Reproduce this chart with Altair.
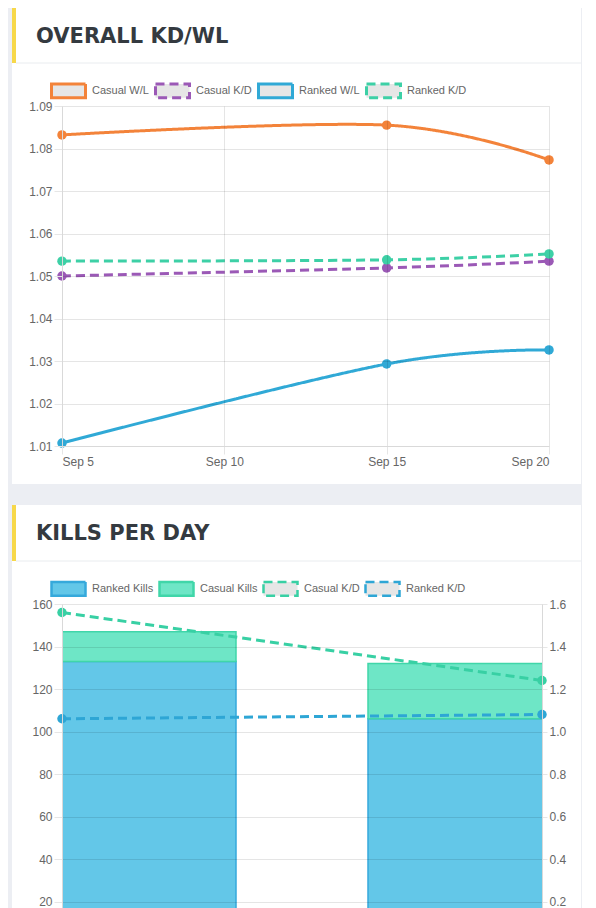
import pandas as pd
import altair as alt

# overall kd / wl values
wl_dates = ["2019-09-05", "2019-09-15", "2019-09-20"]
casual_wl = [1.0832, 1.0855, 1.0773]
casual_kd = [1.0500, 1.0519, 1.0535]
ranked_wl = [1.0107, 1.0293, 1.0326]
ranked_kd = [1.0535, 1.0538, 1.0552]
wl_series = ["Casual W/L", "Casual K/D", "Ranked W/L", "Ranked K/D"]
wl_colors = ["#f3833a", "#9b59b6", "#30a9d6", "#3dd0a6"]
wl_boxes = ["#e6e6e6", "#e6e6e6", "#e6e6e6", "#e6e6e6"]
wl_dashes = [[1, 0], [9, 5], [1, 0], [9, 5]]
wl_ticks = [1.01, 1.02, 1.03, 1.04, 1.05, 1.06, 1.07, 1.08, 1.09]

# kills per day values
kill_dates = ["2019-09-15", "2019-09-20"]
ranked_kills = [133, 106]
casual_kills = [14, 26]
casual_kd_day = [1.56, 1.24]
ranked_kd_day = [1.06, 1.08]
kill_series = ["Ranked Kills", "Casual Kills", "Casual K/D", "Ranked K/D"]
kill_fill = ["#63c7e8", "#6ee6c6", "#e6e6e6", "#e6e6e6"]
kill_stroke = ["#36a9db", "#40d6a9", "#38d0a4", "#2ea6d5"]
kill_dashes = [[1, 0], [1, 0], [9, 5], [9, 5]]
kills_ticks = [0, 20, 40, 60, 80, 100, 120, 140, 160]
kd_ticks = [0, 0.2, 0.4, 0.6, 0.8, 1.0, 1.2, 1.4, 1.6]

FONT = "Liberation Sans"
BOX = "M-1,-0.4L1,-0.4L1,0.4L-1,0.4Z"

wl_rows = []
for name, vals in zip(wl_series, [casual_wl, casual_kd, ranked_wl, ranked_kd]):
    for d, v in zip(wl_dates, vals):
        wl_rows.append({"date": d, "series": name, "value": v})
wl_df = pd.DataFrame(wl_rows)

bar_rows = []
for i, (name, vals) in enumerate(zip(kill_series[:2], [ranked_kills, casual_kills])):
    for d, v in zip(kill_dates, vals):
        bar_rows.append({"date": d, "series": name, "kills": v, "stack": i})
bar_df = pd.DataFrame(bar_rows)

kd_rows = []
for name, vals in zip(kill_series[2:], [casual_kd_day, ranked_kd_day]):
    for d, v in zip(kill_dates, vals):
        kd_rows.append({"date": d, "series": name, "kd": v})
kd_df = pd.DataFrame(kd_rows)


def sep(d):
    return alt.DateTime(year=2019, month=9, date=d, utc=True)


def legend(stroke_width=3):
    return alt.Legend(
        orient="none", legendX=-12, legendY=-34, direction="horizontal", title=None,
        symbolType=BOX, symbolSize=1156, symbolStrokeWidth=stroke_width,
        symbolFillColor="#e6e6e6", labelFont=FONT, labelFontSize=11,
        labelColor="#666", labelOffset=5, columnPadding=0, padding=0,
    )


def axis(**kw):
    base = dict(labelFont=FONT, labelFontSize=12, labelColor="#666",
                gridColor="#000", gridOpacity=0.1, tickColor="#e6e6e6",
                domainColor="#d9d9d9", tickSize=8, labelPadding=2, title=None, zindex=1)
    base.update(kw)
    return alt.Axis(**base)


# white card with a yellow edge and a header line behind each chart
def card(top, bottom):
    one = alt.Data(values=[{"k": 0}])
    bg = alt.Chart(one).mark_rect(color="white").encode(
        x=alt.value(-50), x2=alt.value(519), y=alt.value(top), y2=alt.value(bottom))
    edge = alt.Chart(one).mark_rect(color="#f7d84a").encode(
        x=alt.value(-50), x2=alt.value(-46), y=alt.value(top), y2=alt.value(-43))
    line = alt.Chart(one).mark_rule(color="#e9ecef", strokeWidth=1).encode(
        x=alt.value(-46), x2=alt.value(519), y=alt.value(-43))
    return [bg, edge, line]


def title(text):
    return alt.TitleParams(text, anchor="start", frame="group", font="DejaVu Sans",
                           fontSize=21, fontWeight="bold", color="#343a40",
                           baseline="alphabetic", offset=0, dx=-26, dy=56)


wl_x = alt.X("date:T", scale=alt.Scale(type="utc", domain=[sep(5), sep(20)], nice=False),
             axis=axis(values=[sep(5), sep(10), sep(15), sep(20)], format="%b %-d"))
wl_y = alt.Y("value:Q", scale=alt.Scale(domain=[1.01, 1.09], nice=False, zero=False),
             axis=axis(values=wl_ticks, format=".2f"))

# zero-height areas: only there to give the legend boxes their grey fill
wl_boxfill = alt.Chart(wl_df).mark_area(opacity=1).encode(
    x=wl_x, y=wl_y, y2="value:Q",
    fill=alt.Fill("series:N", scale=alt.Scale(domain=wl_series, range=wl_boxes),
                  legend=legend()),
)
wl_lines = alt.Chart(wl_df).mark_line(strokeWidth=3, interpolate="cardinal").encode(
    x=wl_x, y=wl_y,
    stroke=alt.Stroke("series:N", scale=alt.Scale(domain=wl_series, range=wl_colors),
                      legend=legend()),
    strokeDash=alt.StrokeDash("series:N", scale=alt.Scale(domain=wl_series, range=wl_dashes),
                              legend=legend()),
)
wl_points = alt.Chart(wl_df).mark_circle(size=90, opacity=1).encode(
    x=wl_x, y=wl_y,
    color=alt.Color("series:N", scale=alt.Scale(domain=wl_series, range=wl_colors),
                    legend=None),
)

overall = alt.layer(*card(-98, 378), wl_boxfill, wl_lines, wl_points).properties(
    width=487, height=340, title=title("OVERALL KD/WL"))

k_x = alt.X("date:T", scale=alt.Scale(type="utc", domain=[sep(15), sep(20)], nice=False,
                                      padding=0),
            axis=axis(values=[sep(15), sep(20)], format="%b %-d"))
k_stroke = alt.Stroke("series:N", scale=alt.Scale(domain=kill_series, range=kill_stroke),
                      legend=legend(2.5))

bars = alt.Chart(bar_df).mark_bar(size=348, clip=True, strokeWidth=1.5).encode(
    x=k_x,
    y=alt.Y("kills:Q", stack="zero", scale=alt.Scale(domain=[0, 160], nice=False),
            axis=axis(values=kills_ticks)),
    order=alt.Order("stack:O"),
    fill=alt.Fill("series:N", scale=alt.Scale(domain=kill_series, range=kill_fill),
                  legend=legend(2.5)),
    stroke=k_stroke,
)

kd_y = alt.Y("kd:Q", scale=alt.Scale(domain=[0, 1.6], nice=False),
             axis=axis(orient="right", values=kd_ticks, format=".1f", grid=False, tickSize=5))
kd_lines = alt.Chart(kd_df).mark_line(strokeWidth=3).encode(
    x=k_x, y=kd_y, stroke=k_stroke,
    strokeDash=alt.StrokeDash("series:N", scale=alt.Scale(domain=kill_series, range=kill_dashes),
                              legend=legend(2.5)),
)
kd_points = alt.Chart(kd_df).mark_circle(size=90, opacity=1).encode(
    x=k_x, y=kd_y,
    color=alt.Color("series:N", scale=alt.Scale(domain=kill_series[2:], range=kill_stroke[2:]),
                    legend=None),
)

kills = alt.layer(*card(-99, 420), bars, alt.layer(kd_lines, kd_points)).resolve_scale(
    y="independent").properties(width=480, height=340, title=title("KILLS PER DAY"))

chart = alt.vconcat(overall, kills, spacing=21).resolve_scale(
    color="independent", fill="independent", stroke="independent", strokeDash="independent",
).resolve_legend(
    color="independent", fill="independent", stroke="independent", strokeDash="independent",
).properties(
    background="#eceef3", padding={"left": 4, "top": 0, "right": 0, "bottom": 0}
).configure_view(stroke=None)

chart.save("out.html", embed_options={"renderer": "svg", "actions": False})
